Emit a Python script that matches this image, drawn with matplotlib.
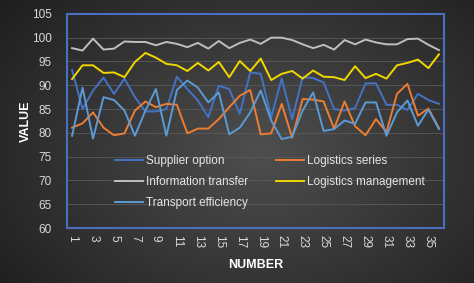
import numpy as np
import matplotlib
matplotlib.use('Agg')
import matplotlib.pyplot as plt

plt.rcParams['font.family'] = ['Liberation Sans', 'DejaVu Sans']

number = np.arange(1, 37)

supplier_option = [93.2, 85.0, 88.9, 91.6, 88.2, 91.4, 87.5, 84.5, 84.5, 85.0, 91.8, 89.2,
                   86.8, 83.3, 89.9, 89.2, 84.0, 92.7, 92.4, 83.3, 91.4, 82.9, 91.7, 91.5,
                   90.6, 85.0, 84.7, 85.2, 90.4, 90.4, 85.9, 85.9, 84.8, 88.2, 86.9, 86.1]
logistics_series = [81.1, 82.0, 84.3, 81.1, 79.5, 79.9, 84.7, 86.6, 85.4, 86.1, 85.9, 79.9,
                    80.9, 80.9, 82.9, 85.4, 87.8, 89.0, 79.7, 79.9, 86.1, 79.0, 87.1, 87.0,
                    86.6, 80.9, 86.6, 81.4, 79.5, 82.9, 80.2, 88.2, 90.3, 83.6, 85.1, 81.0]
information_transfer = [97.8, 97.3, 99.8, 97.5, 97.7, 99.2, 99.1, 99.1, 98.4, 99.1, 98.7, 98.0,
                        98.9, 97.7, 99.3, 97.8, 98.9, 99.6, 98.7, 100.0, 100.0, 99.5, 98.6, 97.8,
                        98.5, 97.5, 99.5, 98.6, 99.6, 99.0, 98.6, 98.6, 99.7, 99.8, 98.5, 97.4]
logistics_management = [91.3, 94.2, 94.2, 92.6, 92.7, 91.7, 94.9, 96.8, 95.8, 94.5, 94.2, 93.0,
                        94.7, 93.1, 94.9, 91.7, 95.1, 93.0, 95.6, 91.1, 92.4, 93.0, 91.4, 93.1,
                        91.8, 91.7, 91.1, 94.0, 91.5, 92.4, 91.4, 94.2, 94.7, 95.4, 93.6, 96.5]
transport_efficiency = [79.4, 89.5, 78.8, 87.5, 86.9, 84.7, 79.4, 84.7, 89.2, 79.4, 89.0, 91.0,
                        89.5, 86.4, 88.5, 79.7, 81.1, 84.3, 88.9, 82.6, 78.7, 79.2, 84.7, 88.5,
                        80.4, 80.8, 82.6, 81.9, 86.4, 86.4, 79.4, 84.3, 86.8, 81.5, 84.9, 80.8]

yticks = np.arange(60, 106, 5)
xticks = np.arange(1, 36, 2)

fig = plt.figure(figsize=(4.74, 2.83), dpi=100)

# dark radial background
bg = fig.add_axes([0, 0, 1, 1], zorder=-10)
yy, xx = np.mgrid[0:283, 0:474]
r = np.sqrt(((xx - 260) / 300.0) ** 2 + ((yy - 150) / 220.0) ** 2)
shade = np.clip(0.31 - 0.17 * r, 0.08, 0.4)
bg.imshow(shade, cmap='gray', vmin=0, vmax=1, aspect='auto', extent=[0, 1, 0, 1])
bg.axis('off')

ax = fig.add_axes([0.141, 0.194, 0.796, 0.757])
ax.patch.set_alpha(0)

ax.plot(number, supplier_option, color='#4472c4', lw=1.4, label='Supplier option')
ax.plot(number, logistics_series, color='#ed7d31', lw=1.4, label='Logistics series')
ax.plot(number, information_transfer, color='#bfbfbf', lw=1.4, label='Information transfer')
ax.plot(number, logistics_management, color='#f2d600', lw=1.4, label='Logistics management')
ax.plot(number, transport_efficiency, color='#5b9bd5', lw=1.4, label='Transport efficiency')

ax.set_xlim(0.5, 36.5)
ax.set_ylim(60, 105)
ax.set_yticks(yticks)
ax.set_xticks(xticks)
ax.set_xticklabels([str(v) for v in xticks], rotation=270)
ax.tick_params(length=0, colors='#d9d9d9', labelsize=8.5)
ax.tick_params(axis='y', pad=11)
ax.tick_params(axis='x', pad=5)
ax.grid(axis='y', color='#5a5a5a', lw=0.6)
for s in ax.spines.values():
    s.set_color('#4a6fc0')
    s.set_linewidth(1.5)

ax.set_xlabel('NUMBER', color='white', fontsize=9, fontweight='bold', labelpad=8)
ax.set_ylabel('VALUE', color='white', fontsize=9, fontweight='bold', labelpad=0)

h, l = ax.get_legend_handles_labels()
order = [0, 2, 4, 1, 3]
leg = ax.legend([h[i] for i in order], [l[i] for i in order], ncol=2, frameon=False,
                loc='upper left', bbox_to_anchor=(0.128, 0.34), fontsize=8.5,
                handlelength=2.4, handletextpad=0.25, columnspacing=2.3,
                labelspacing=0.75, borderpad=0, borderaxespad=0)
for t in leg.get_texts():
    t.set_color('#e6e6e6')

fig.savefig('out.png', dpi=100)
